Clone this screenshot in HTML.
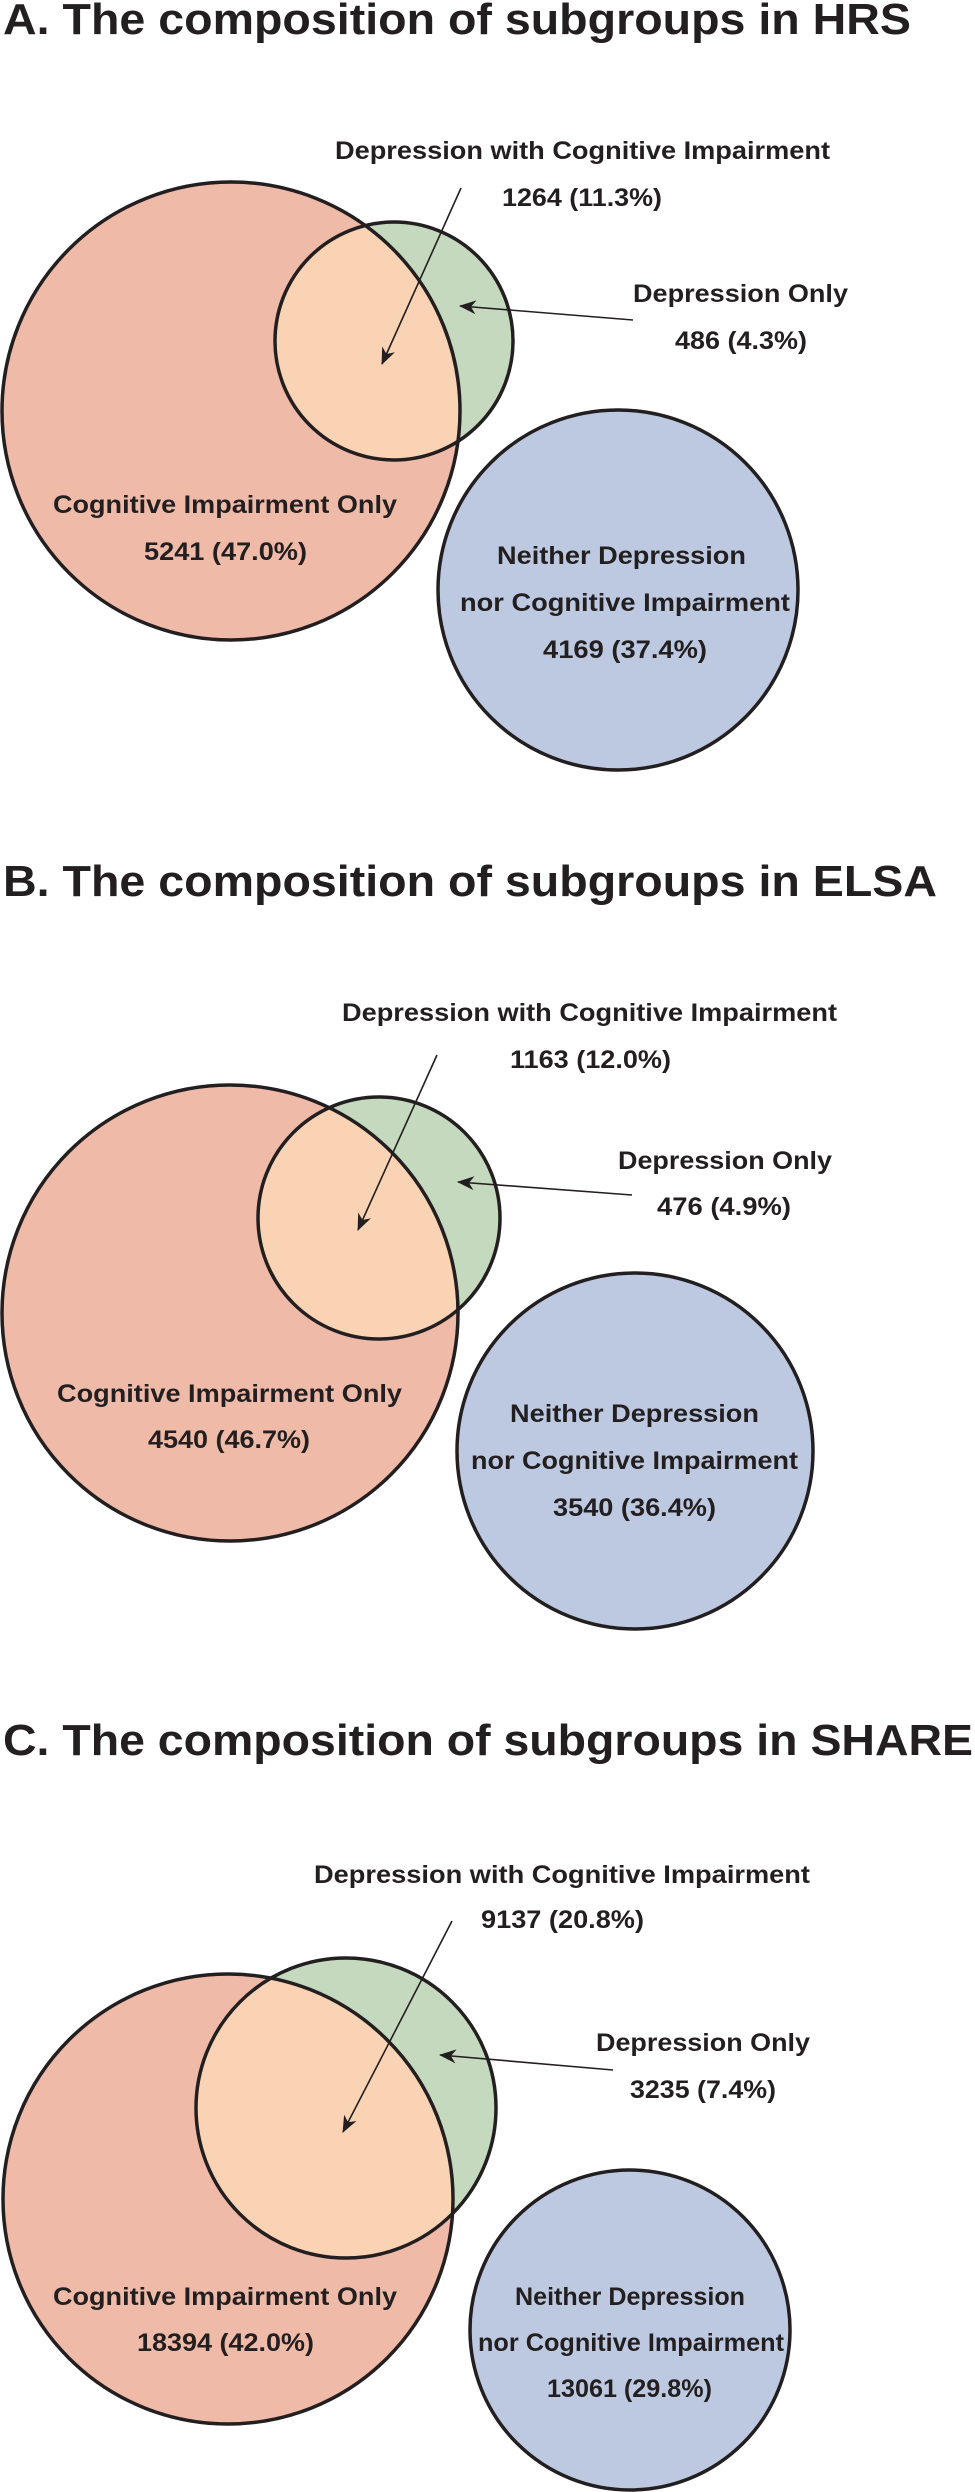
<!DOCTYPE html>
<html><head><meta charset="utf-8"><style>
html,body{margin:0;padding:0;background:#fff;}
svg{display:block;}
text{font-family:"Liberation Sans",Arial,sans-serif;font-weight:bold;fill:#231F20;}
.t{font-size:44px;}
.l{font-size:25px;}
</style></head><body>
<svg width="975" height="2492" viewBox="0 0 975 2492" xmlns="http://www.w3.org/2000/svg">
<defs>
<marker id="ah" markerWidth="18" markerHeight="14" refX="16" refY="7" orient="auto" markerUnits="userSpaceOnUse">
<path d="M0,0 L17,7 L0,14 L5,7 Z" fill="#231F20"/>
</marker>
<clipPath id="cA"><circle cx="231" cy="411" r="229"/></clipPath>
<clipPath id="cB"><circle cx="230" cy="1313" r="228"/></clipPath>
<clipPath id="cC"><circle cx="228" cy="2199" r="225"/></clipPath>
</defs>

<!-- Panel A -->
<text class="t" x="3" y="34" textLength="908" lengthAdjust="spacingAndGlyphs">A. The composition of subgroups in HRS</text>
<circle cx="231" cy="411" r="229" fill="#EFBBA8"/>
<circle cx="394" cy="341" r="119" fill="#C5D9BE"/>
<circle cx="394" cy="341" r="119" fill="#FAD3B4" clip-path="url(#cA)"/>
<circle cx="231" cy="411" r="229" fill="none" stroke="#231F20" stroke-width="3.5"/>
<circle cx="394" cy="341" r="119" fill="none" stroke="#231F20" stroke-width="3.5"/>
<circle cx="618" cy="590" r="180" fill="#BCC9E0" stroke="#231F20" stroke-width="3.5"/>
<text class="l" x="335" y="159" textLength="495" lengthAdjust="spacingAndGlyphs">Depression with Cognitive Impairment</text>
<text class="l" x="502" y="206" textLength="160" lengthAdjust="spacingAndGlyphs">1264 (11.3%)</text>
<line x1="461" y1="188" x2="382" y2="364" stroke="#231F20" stroke-width="1.6" marker-end="url(#ah)"/>
<text class="l" x="633" y="302" textLength="215" lengthAdjust="spacingAndGlyphs">Depression Only</text>
<text class="l" x="675" y="349" textLength="132" lengthAdjust="spacingAndGlyphs">486 (4.3%)</text>
<line x1="633" y1="320" x2="460" y2="306" stroke="#231F20" stroke-width="1.6" marker-end="url(#ah)"/>
<text class="l" x="53" y="513" textLength="344" lengthAdjust="spacingAndGlyphs">Cognitive Impairment Only</text>
<text class="l" x="144" y="560" textLength="163" lengthAdjust="spacingAndGlyphs">5241 (47.0%)</text>
<text class="l" x="497" y="564" textLength="249" lengthAdjust="spacingAndGlyphs">Neither Depression</text>
<text class="l" x="460" y="611" textLength="330" lengthAdjust="spacingAndGlyphs">nor Cognitive Impairment</text>
<text class="l" x="543" y="658" textLength="164" lengthAdjust="spacingAndGlyphs">4169 (37.4%)</text>

<!-- Panel B -->
<text class="t" x="3" y="896" textLength="934" lengthAdjust="spacingAndGlyphs">B. The composition of subgroups in ELSA</text>
<circle cx="230" cy="1313" r="228" fill="#EFBBA8"/>
<circle cx="379" cy="1218" r="121" fill="#C5D9BE"/>
<circle cx="379" cy="1218" r="121" fill="#FAD3B4" clip-path="url(#cB)"/>
<circle cx="230" cy="1313" r="228" fill="none" stroke="#231F20" stroke-width="3.5"/>
<circle cx="379" cy="1218" r="121" fill="none" stroke="#231F20" stroke-width="3.5"/>
<circle cx="635" cy="1451" r="178" fill="#BCC9E0" stroke="#231F20" stroke-width="3.5"/>
<text class="l" x="342" y="1021" textLength="495" lengthAdjust="spacingAndGlyphs">Depression with Cognitive Impairment</text>
<text class="l" x="510" y="1068" textLength="161" lengthAdjust="spacingAndGlyphs">1163 (12.0%)</text>
<line x1="437" y1="1055" x2="358" y2="1230" stroke="#231F20" stroke-width="1.6" marker-end="url(#ah)"/>
<text class="l" x="618" y="1169" textLength="214" lengthAdjust="spacingAndGlyphs">Depression Only</text>
<text class="l" x="657" y="1215" textLength="134" lengthAdjust="spacingAndGlyphs">476 (4.9%)</text>
<line x1="632" y1="1195" x2="458" y2="1182" stroke="#231F20" stroke-width="1.6" marker-end="url(#ah)"/>
<text class="l" x="57" y="1402" textLength="345" lengthAdjust="spacingAndGlyphs">Cognitive Impairment Only</text>
<text class="l" x="148" y="1448" textLength="162" lengthAdjust="spacingAndGlyphs">4540 (46.7%)</text>
<text class="l" x="510" y="1422" textLength="249" lengthAdjust="spacingAndGlyphs">Neither Depression</text>
<text class="l" x="471" y="1469" textLength="327" lengthAdjust="spacingAndGlyphs">nor Cognitive Impairment</text>
<text class="l" x="553" y="1516" textLength="163" lengthAdjust="spacingAndGlyphs">3540 (36.4%)</text>

<!-- Panel C -->
<text class="t" x="3" y="1755" textLength="970" lengthAdjust="spacingAndGlyphs">C. The composition of subgroups in SHARE</text>
<circle cx="228" cy="2199" r="225" fill="#EFBBA8"/>
<circle cx="346" cy="2108" r="150" fill="#C5D9BE"/>
<circle cx="346" cy="2108" r="150" fill="#FAD3B4" clip-path="url(#cC)"/>
<circle cx="228" cy="2199" r="225" fill="none" stroke="#231F20" stroke-width="3.5"/>
<circle cx="346" cy="2108" r="150" fill="none" stroke="#231F20" stroke-width="3.5"/>
<circle cx="630" cy="2330" r="160" fill="#BCC9E0" stroke="#231F20" stroke-width="3.5"/>
<text class="l" x="314" y="1883" textLength="496" lengthAdjust="spacingAndGlyphs">Depression with Cognitive Impairment</text>
<text class="l" x="481" y="1928" textLength="163" lengthAdjust="spacingAndGlyphs">9137 (20.8%)</text>
<line x1="452" y1="1921" x2="343" y2="2132" stroke="#231F20" stroke-width="1.6" marker-end="url(#ah)"/>
<text class="l" x="596" y="2051" textLength="214" lengthAdjust="spacingAndGlyphs">Depression Only</text>
<text class="l" x="630" y="2098" textLength="146" lengthAdjust="spacingAndGlyphs">3235 (7.4%)</text>
<line x1="613" y1="2070" x2="440" y2="2055" stroke="#231F20" stroke-width="1.6" marker-end="url(#ah)"/>
<text class="l" x="53" y="2305" textLength="344" lengthAdjust="spacingAndGlyphs">Cognitive Impairment Only</text>
<text class="l" x="137" y="2351" textLength="177" lengthAdjust="spacingAndGlyphs">18394 (42.0%)</text>
<text class="l" x="515" y="2305" textLength="230" lengthAdjust="spacingAndGlyphs">Neither Depression</text>
<text class="l" x="478" y="2351" textLength="306" lengthAdjust="spacingAndGlyphs">nor Cognitive Impairment</text>
<text class="l" x="547" y="2397" textLength="165" lengthAdjust="spacingAndGlyphs">13061 (29.8%)</text>
</svg>
</body></html>
